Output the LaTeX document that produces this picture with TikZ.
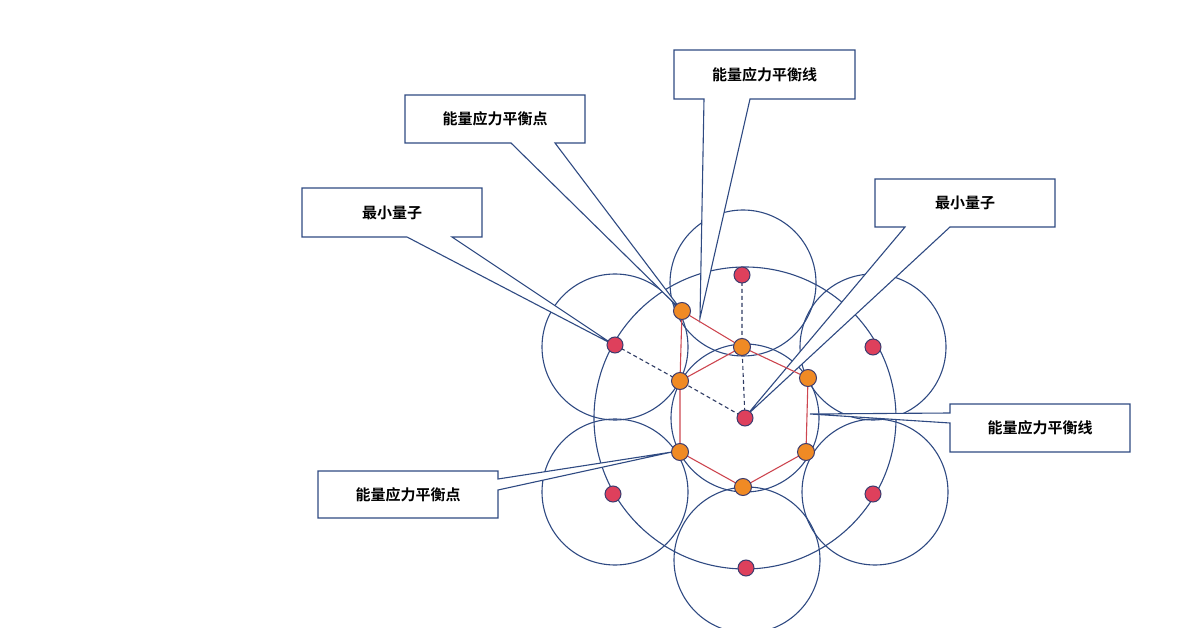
\documentclass[tikz,border=0pt]{standalone}
\usepackage{fontspec}
\newfontfamily\cjk{Noto Sans CJK SC}[BoldFont={Noto Sans CJK SC Bold}]
\begin{document}
\begin{tikzpicture}[x=1pt,y=-1pt,
  ln/.style={draw=blue!40!black!80!cyan!60!black, color={rgb,255:red,47;green,74;blue,130}, line width=1.1pt},
  ring/.style={ln},
  red dot/.style={circle, minimum size=16pt, inner sep=0, fill={rgb,255:red,222;green,64;blue,92}, draw={rgb,255:red,60;green,60;blue,110}, line width=1pt},
  org dot/.style={circle, minimum size=17pt, inner sep=0, fill={rgb,255:red,240;green,138;blue,36}, draw={rgb,255:red,60;green,60;blue,110}, line width=1pt},
  rl/.style={draw={rgb,255:red,205;green,70;blue,80}, line width=1.1pt},
  dl/.style={draw={rgb,255:red,47;green,60;blue,100}, line width=1.1pt, dash pattern=on 4pt off 3pt},
  lbl/.style={font=\cjk\bfseries\fontsize{15}{18}\selectfont, text=black}
]
\useasboundingbox (0,0) rectangle (1192,628);
\definecolor{bl}{RGB}{47,74,130}
% circles
\draw[ring,draw=bl] (745,418) circle (151);
\draw[ring,draw=bl] (745,418) circle (74);
\foreach \p in {(743,283),(615,347),(873,347),(615,492),(875,492),(747,560)}
  \draw[ring,draw=bl] \p circle (73);
% callouts
\draw[draw=bl,line width=1.1pt,fill=white] (674,50) -- (855,50) -- (855,99) -- (750,99) -- (700,318) -- (704,99) -- (674,99) -- cycle;
\draw[draw=bl,line width=1.1pt,fill=white] (405,95) -- (585,95) -- (585,143) -- (555,143) -- (682,311) -- (511,143) -- (405,143) -- cycle;
\draw[draw=bl,line width=1.1pt,fill=white] (302,188) -- (482,188) -- (482,237) -- (452,237) -- (614,345) -- (407,237) -- (302,237) -- cycle;
\draw[draw=bl,line width=1.1pt,fill=white] (875,179) -- (1055,179) -- (1055,227) -- (950,227) -- (746,416) -- (905,227) -- (875,227) -- cycle;
\draw[draw=bl,line width=1.1pt,fill=white] (950,404) -- (1130,404) -- (1130,452) -- (950,452) -- (950,423) -- (810,414) -- (950,413) -- cycle;
\draw[draw=bl,line width=1.1pt,fill=white] (318,471) -- (498,471) -- (498,479) -- (672,452) -- (498,490) -- (498,518) -- (318,518) -- cycle;
\node[lbl] (t1) at (764.5,75) {能量应力平衡线};
\node[lbl] (t2) at (495,119) {能量应力平衡点};
\node[lbl] (t3) at (392,212.5) {最小量子};
\node[lbl] (t4) at (965,203) {最小量子};
\node[lbl] (t5) at (1040,428) {能量应力平衡线};
\node[lbl] (t6) at (408,494.5) {能量应力平衡点};
% dot coordinates
\coordinate (C) at (745,418);
\coordinate (rT) at (742,275);
\coordinate (rUL) at (615,345);
\coordinate (rUR) at (873,347);
\coordinate (rLL) at (613,494);
\coordinate (rLR) at (873,494);
\coordinate (rB) at (746,568);
\coordinate (oA) at (682,311);
\coordinate (h1) at (742,347);
\coordinate (h2) at (808,378);
\coordinate (h3) at (806,452);
\coordinate (h4) at (743,487);
\coordinate (h5) at (680,452);
\coordinate (h6) at (680,381);
% red lines
\draw[rl] (h1) -- (h2) -- (h3) -- (h4) -- (h5) -- (h6) -- cycle;
\draw[rl] (oA) -- (h1);
\draw[rl] (oA) -- (h6);
% dashed
\draw[dl] (rT) -- (h1) -- (C);
\draw[dl] (rUL) -- (h6) -- (C);
% dots
\foreach \c in {C,rT,rUL,rUR,rLL,rLR,rB} \node[red dot] at (\c) {};
\foreach \c in {oA,h1,h2,h3,h4,h5,h6} \node[org dot] at (\c) {};
\end{tikzpicture}
\end{document}
